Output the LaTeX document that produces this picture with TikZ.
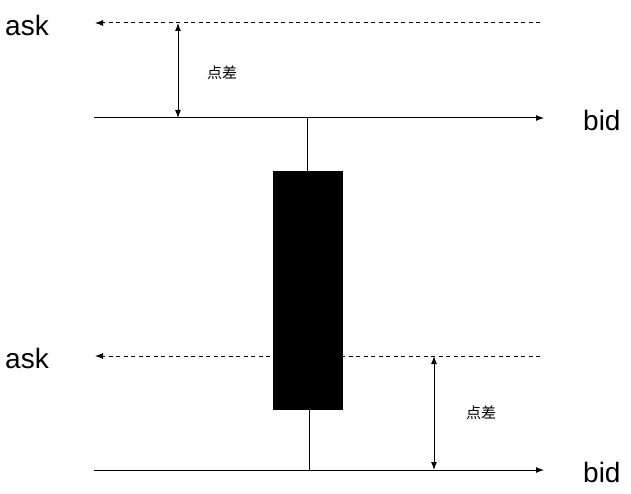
\documentclass[tikz,border=0pt]{standalone}
\usepackage{fontspec}
\setmainfont{Liberation Sans}
\newfontfamily\cjk{Noto Sans CJK SC}
\usetikzlibrary{arrows.meta}
\begin{document}
\begin{tikzpicture}[x=1pt,y=-1pt,
  line/.style={line width=1pt,black},
  ahead/.tip={Latex[length=8pt,width=6pt]},
  tip/.style={-ahead},
  dline/.style={line, dash pattern=on 4pt off 3.5pt},
  lab/.style={font=\fontsize{28}{30}\selectfont, inner sep=0pt},
  cn/.style={font=\cjk\fontsize{15}{17}\selectfont, inner sep=0pt}]
\useasboundingbox (0,0) rectangle (631,494);
% coordinates
\coordinate (a1r) at (540,23);
\coordinate (a1l) at (95,23);
\coordinate (b1l) at (94,118);
\coordinate (b1r) at (544,118);
\coordinate (a2r) at (540,356);
\coordinate (a2l) at (95,356);
\coordinate (b2l) at (94,470);
\coordinate (b2r) at (544,470);
% lines
\draw[dline,tip] (a1r) -- (a1l);
\draw[line,tip] (b1l) -- (b1r);
\draw[dline,tip] (a2r) -- (a2l);
\draw[line,tip] (b2l) -- (b2r);
% candle
\node[fill=black, minimum width=70pt, minimum height=239pt, inner sep=0pt, anchor=north west] (box) at (273,171) {};
\coordinate (w1) at (307,118);
\coordinate (w2) at (309,470);
\draw[line] (w1) -- (w1 |- box.north);
\draw[line] (w2 |- box.south) -- (w2);
% spread arrows
\coordinate (s1t) at (178,23);
\coordinate (s1b) at (178,118);
\coordinate (s2t) at (434,356);
\coordinate (s2b) at (434,470);
\draw[line,ahead-ahead] (s1t) -- (s1b);
\draw[line,ahead-ahead] (s2t) -- (s2b);
\node[cn] (d1) at (222,73) {点差};
\node[cn] (d2) at (481,413) {点差};
% labels
\node[lab, anchor=west] (ask1) at (5,25) {ask};
\node[lab, anchor=west] (ask2) at (5,358) {ask};
\node[lab, anchor=west] (bid1) at (583,120) {bid};
\node[lab, anchor=west] (bid2) at (583,472) {bid};
\end{tikzpicture}
\end{document}
